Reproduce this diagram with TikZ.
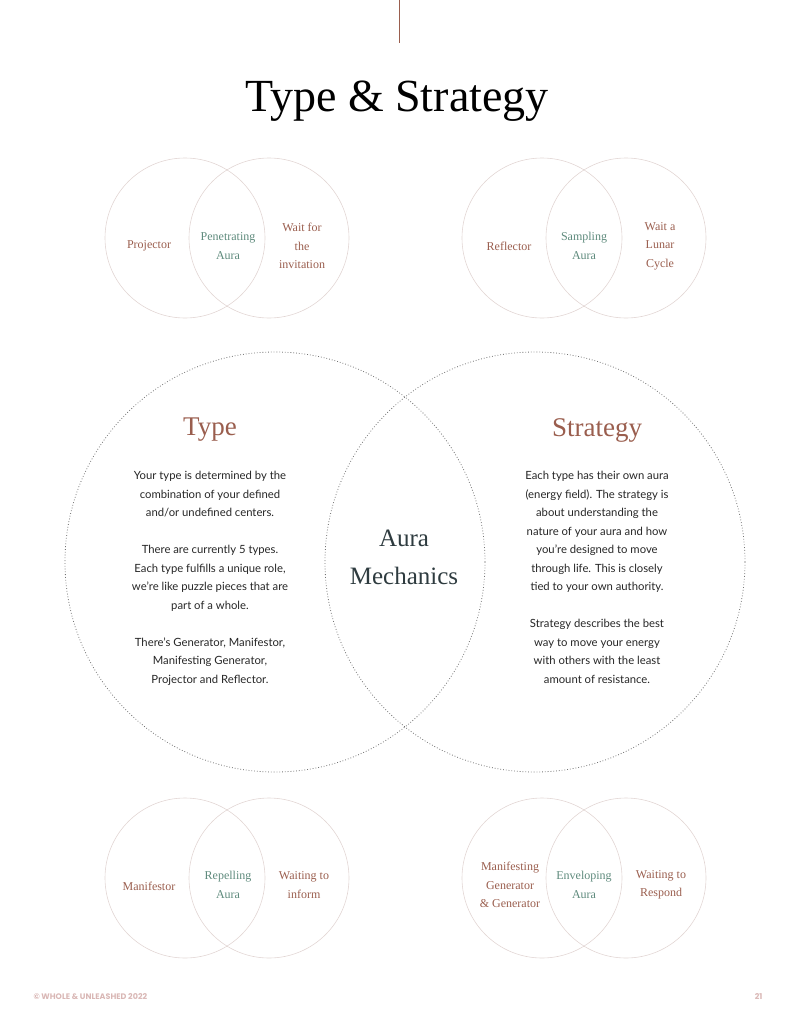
\documentclass[tikz,border=0pt]{standalone}
\usepackage{fontspec}
\setmainfont{Liberation Serif}
\newfontfamily\bodyfont{Lato}
\newfontfamily\footfont{Poppins}
\definecolor{rust}{HTML}{9A5E4E}
\definecolor{sage}{HTML}{5E8A7C}
\definecolor{ring}{HTML}{E2D6D4}
\definecolor{dark}{HTML}{2E3B3F}
\definecolor{foot}{HTML}{D9B7B5}
\begin{document}
\begin{tikzpicture}[x=1pt,y=-1pt,
  smallring/.style={draw=ring,line width=0.6pt},
  bigring/.style={draw=gray!90!black,dotted,line width=0.8pt},
  lbl/.style={text=rust,font=\fontsize{12}{18.5}\selectfont,align=center},
  mid/.style={text=sage,font=\fontsize{12}{18.5}\selectfont,align=center},
  body/.style={font=\bodyfont\fontsize{11.3}{18.5}\selectfont,align=center,text=black!85}]
\useasboundingbox (0,0) rectangle (794,1028);
\draw[rust,line width=0.9pt] (399,0) -- (399,43);
\node (title) at (397,101) {\fontsize{46}{50}\selectfont Type \& Strategy};
% small venns
\foreach \cx/\cy in {185/238,542/238,185/878,542/878}{
  \draw[smallring] (\cx,\cy) circle (80);
  \draw[smallring] (\cx+84,\cy) circle (80);
}
\node[lbl] (p1) at (149,246) {Projector};
\node[mid] (p2) at (228,246) {Penetrating\\Aura};
\node[lbl] (p3) at (302,246) {Wait for\\the\\invitation};
\node[lbl] (r1) at (509,246) {Reflector};
\node[mid] (r2) at (584,246) {Sampling\\Aura};
\node[lbl] (r3) at (660,246) {Wait a\\Lunar\\Cycle};
\node[lbl] (m1) at (149,886) {Manifestor};
\node[mid] (m2) at (228,885) {Repelling\\Aura};
\node[lbl] (m3) at (304,885) {Waiting to\\inform};
\node[lbl] (g1) at (510,885) {Manifesting\\Generator\\\& Generator};
\node[mid] (g2) at (584,885) {Enveloping\\Aura};
\node[lbl] (g3) at (661,885) {Waiting to\\Respond};
% big venn
\draw[bigring] (275,562) circle (210);
\draw[bigring] (535,562) circle (210);
\node[text=rust,font=\fontsize{27}{30}\selectfont] (type) at (210,430) {Type};
\node[text=rust,font=\fontsize{27}{30}\selectfont] (strat) at (597,430) {Strategy};
\node[text=dark,font=\fontsize{25}{38}\selectfont,align=center] (am) at (404,557) {Aura\\Mechanics};
\node[body,anchor=north] (tb) at (210,468) {Your type is determined by the\\combination of your defined\\and/or undefined centers.\\[18.5pt]There are currently 5 types.\\Each type fulfills a unique role,\\we’re like puzzle pieces that are\\part of a whole.\\[18.5pt]There’s Generator, Manifestor,\\Manifesting Generator,\\Projector and Reflector.};
\node[body,anchor=north] (sb) at (597,468) {Each type has their own aura\\(energy field). The strategy is\\about understanding the\\nature of your aura and how\\you’re designed to move\\through life. This is closely\\tied to your own authority.\\[18.5pt]Strategy describes the best\\way to move your energy\\with others with the least\\amount of resistance.};
\node[anchor=west,text=foot,font=\footfont\bfseries\fontsize{8}{9}\selectfont] (ft) at (30,997) {© WHOLE \& UNLEASHED 2022};
\node[anchor=east,text=foot,font=\footfont\bfseries\fontsize{8}{9}\selectfont] (pg) at (766,997) {21};
\end{tikzpicture}
\end{document}
